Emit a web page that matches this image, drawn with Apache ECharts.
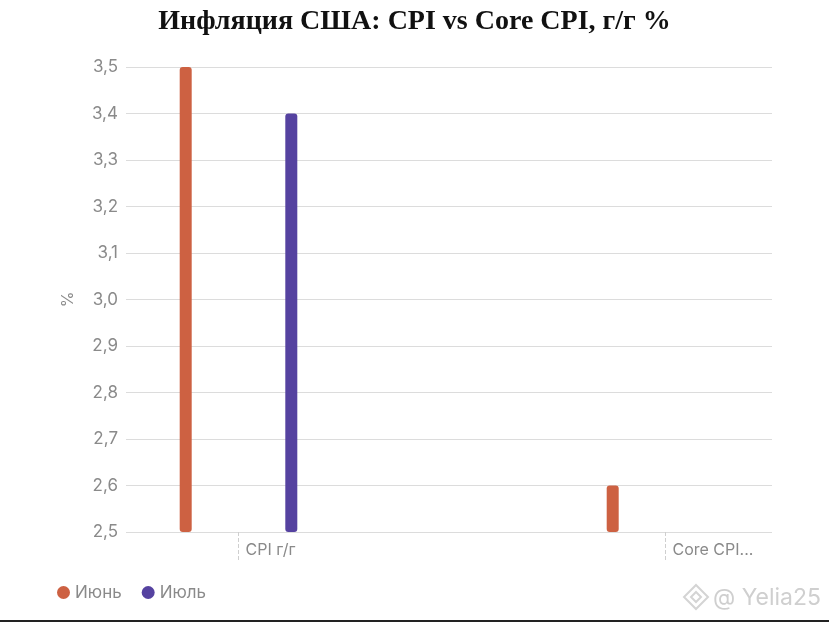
<!DOCTYPE html>
<html>
<head>
<meta charset="utf-8">
<script src="https://cdn.jsdelivr.net/npm/echarts@6/dist/echarts.min.js"></script>
<style>
  html, body { margin: 0; padding: 0; background: #fff; }
  #main { width: 829px; height: 622px; }
</style>
</head>
<body>
<div id="main"></div>
<script>
// 数据
var categories = ['CPI г/г', 'Core CPI г/г'];
var seriesNames = ['Июнь', 'Июль'];
var juneValues = [3.5, 2.6];
var julyValues = [3.4, null];
var yTicks = { min: 2.5, max: 3.5, step: 0.1 };

var chart = echarts.init(document.getElementById('main'));
var grey = '#8a8a8a';

var option = {
    backgroundColor: '#fff',
    title: {
        text: 'Инфляция США: CPI vs Core CPI, г/г %',
        left: 'center',
        top: 3,
        textStyle: {
            fontFamily: 'Liberation Serif',
            fontWeight: 'bold',
            fontSize: 28,
            color: '#111'
        }
    },
    legend: {
        data: seriesNames,
        left: 52,
        bottom: 16,
        icon: 'circle',
        itemWidth: 13,
        itemHeight: 13,
        itemGap: 20,
        textStyle: { color: grey, fontSize: 17, fontFamily: 'Inter' }
    },
    grid: [
        // 网格线和y轴
        { left: 126, right: 57, top: 67, bottom: 90, outerBoundsMode: 'none' },
        // 柱子：类目中心在 238 和 665（网格超出画布）
        { left: 25, width: 854, top: 67, bottom: 90, outerBoundsMode: 'none' }
    ],
    xAxis: [{
        gridIndex: 0,
        type: 'category',
        data: categories,
        show: false
    }, {
        gridIndex: 1,
        type: 'category',
        data: categories,
        axisLine: { show: false },
        axisTick: {
            show: true,
            alignWithLabel: true,
            length: 28,
            lineStyle: { color: '#cfcfcf', type: 'dashed' }
        },
        axisLabel: {
            color: grey,
            fontSize: 16,
            fontFamily: 'Inter',
            align: 'left',
            margin: 10,
            padding: [0, 0, 0, 7],
            width: 86,
            overflow: 'truncate',
            ellipsis: '...'
        }
    }],
    yAxis: [{
        gridIndex: 0,
        type: 'value',
        min: yTicks.min,
        max: yTicks.max,
        interval: yTicks.step,
        name: '%',
        nameLocation: 'middle',
        nameRotate: 90,
        nameGap: 50,
        nameTextStyle: { color: grey, fontSize: 16, fontFamily: 'Inter' },
        axisLine: { show: false },
        axisTick: { show: false },
        axisLabel: {
            color: grey,
            fontSize: 17,
            fontFamily: 'Inter',
            margin: 8,
            formatter: function (v) {
                return v.toFixed(1).replace('.', ',');
            }
        },
        splitLine: { lineStyle: { color: '#dcdcdc', width: 1 } }
    }, {
        gridIndex: 1,
        type: 'value',
        min: yTicks.min,
        max: yTicks.max,
        interval: yTicks.step,
        show: false,
        splitLine: { show: false }
    }],
    series: [{
        name: seriesNames[0],
        type: 'bar',
        xAxisIndex: 1,
        yAxisIndex: 1,
        data: juneValues,
        barWidth: 12,
        barGap: '780%',
        itemStyle: { color: '#cd6142', borderRadius: 3 }
    }, {
        name: seriesNames[1],
        type: 'bar',
        xAxisIndex: 1,
        yAxisIndex: 1,
        data: julyValues,
        barWidth: 12,
        itemStyle: { color: '#5542a0', borderRadius: 3 }
    }],
    graphic: [{
        type: 'polygon',
        shape: { points: [[696, 585], [708, 597], [696, 609], [684, 597]] },
        style: { fill: 'none', stroke: '#d4d4d4', lineWidth: 2 }
    }, {
        type: 'polygon',
        shape: { points: [[696, 592], [701, 597], [696, 602], [691, 597]] },
        style: { fill: 'none', stroke: '#d4d4d4', lineWidth: 2 }
    }, {
        type: 'text',
        right: 8,
        bottom: 12,
        style: {
            text: '@ Yelia25',
            fill: '#cfcfcf',
            font: '23px Inter'
        }
    }, {
        type: 'rect',
        left: 0,
        bottom: 0,
        shape: { width: 829, height: 2 },
        style: { fill: '#222' }
    }]
};
chart.setOption(option);
</script>
</body>
</html>
